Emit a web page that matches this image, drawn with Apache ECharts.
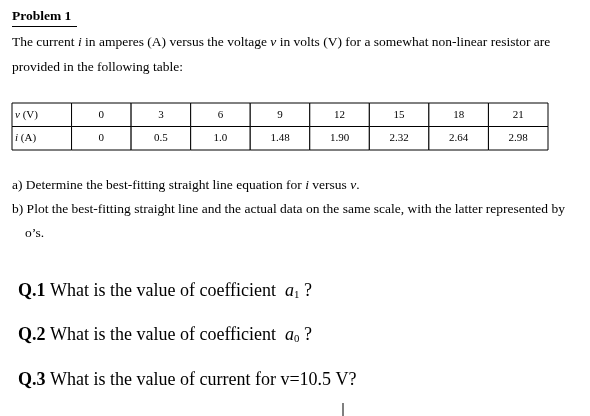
<!DOCTYPE html>
<html>
<head>
<meta charset="utf-8">
<script src="https://cdn.jsdelivr.net/npm/echarts@6/dist/echarts.min.js"></script>
<style>html,body{margin:0;background:#fff}#c{width:590px;height:416px}</style>
</head>
<body>
<div id="c"></div>
<script>
var rowLabels = ['{i|v} (V)', '{i|i} (A)']
var voltages = ['0', '3', '6', '9', '12', '15', '18', '21']
var currents = ['0', '0.5', '1.0', '1.48', '1.90', '2.32', '2.64', '2.98']

var cols = ['h'].concat(voltages.map(function (v, k) { return 'c' + k }))
var cells = []
rowLabels.forEach(function (lab, r) {
  var vals = r === 0 ? voltages : currents
  cells.push([0, r, lab, 'left'])
  vals.forEach(function (v, k) { cells.push([k + 1, r, v, 'center']) })
})

var serif = 'Liberation Serif'
function txt (x, y, rich, size, weight) {
  return { type: 'text', left: x, top: y, style: { text: rich, font: (weight || 'normal') + ' ' + size + 'px ' + serif, fill: '#000',
    rich: { i: { fontStyle: 'italic', fontFamily: serif, fontSize: size }, b: { fontWeight: 'bold', fontFamily: serif, fontSize: size }, s: { fontFamily: serif, fontSize: size * 0.6, padding: [size * 0.5, 0, 0, 0] }, iv: { fontStyle: 'italic', fontFamily: serif, fontSize: size } } } }
}

var chart = echarts.init(document.getElementById('c'))
chart.setOption({
  animation: false,
  grid: { left: 12, right: 42, top: 103, height: 47 },
  xAxis: { type: 'category', data: cols, show: false },
  yAxis: { type: 'category', data: ['v', 'i'], inverse: true, show: false },
  series: [{
    type: 'custom',
    data: cells,
    renderItem: function (params, api) {
      var p = api.coord([api.value(0), api.value(1)])
      var s = api.size([1, 1])
      var item = cells[params.dataIndex]
      var left = item[3] === 'left'
      return {
        type: 'group',
        children: [
          { type: 'rect', shape: { x: p[0] - s[0] / 2, y: p[1] - s[1] / 2, width: s[0], height: s[1] },
            style: { fill: '#fff', stroke: '#000', lineWidth: 1 } },
          { type: 'text', x: left ? p[0] - s[0] / 2 + 3 : p[0], y: p[1],
            style: { text: item[2], align: left ? 'left' : 'center', verticalAlign: 'middle', font: '11px ' + serif, fill: '#000',
              rich: { i: { fontStyle: 'italic', fontSize: 11, fontFamily: serif } } } }
        ]
      }
    }
  }],
  graphic: [
    txt(12, 10, 'Problem 1', 13.5, 'bold'),
    { type: 'line', shape: { x1: 12, y1: 26.5, x2: 77, y2: 26.5 }, style: { stroke: '#000', lineWidth: 1 } },
    txt(12, 35, 'The current {i|i} in amperes (A) versus the voltage {i|v} in volts (V) for a somewhat non-linear resistor are', 13.5),
    txt(12, 60, 'provided in the following table:', 13.5),
    txt(12, 178, 'a) Determine the best-fitting straight line equation for {i|i} versus {i|v}.', 13.5),
    txt(12, 202, 'b) Plot the best-fitting straight line and the actual data on the same scale, with the latter represented by', 13.5),
    txt(25, 226, 'o\u2019s.', 13.5),
    txt(18, 282, '{b|Q.1} What is the value of coefficient  {iv|a}{s|1} ?', 18),
    txt(18, 326, '{b|Q.2} What is the value of coefficient  {iv|a}{s|0} ?', 18),
    txt(18, 371, '{b|Q.3} What is the value of current for v=10.5 V?', 18),
    { type: 'line', shape: { x1: 343, y1: 403, x2: 343, y2: 416 }, style: { stroke: '#000', lineWidth: 1 } }
  ]
})
</script>
</body>
</html>
